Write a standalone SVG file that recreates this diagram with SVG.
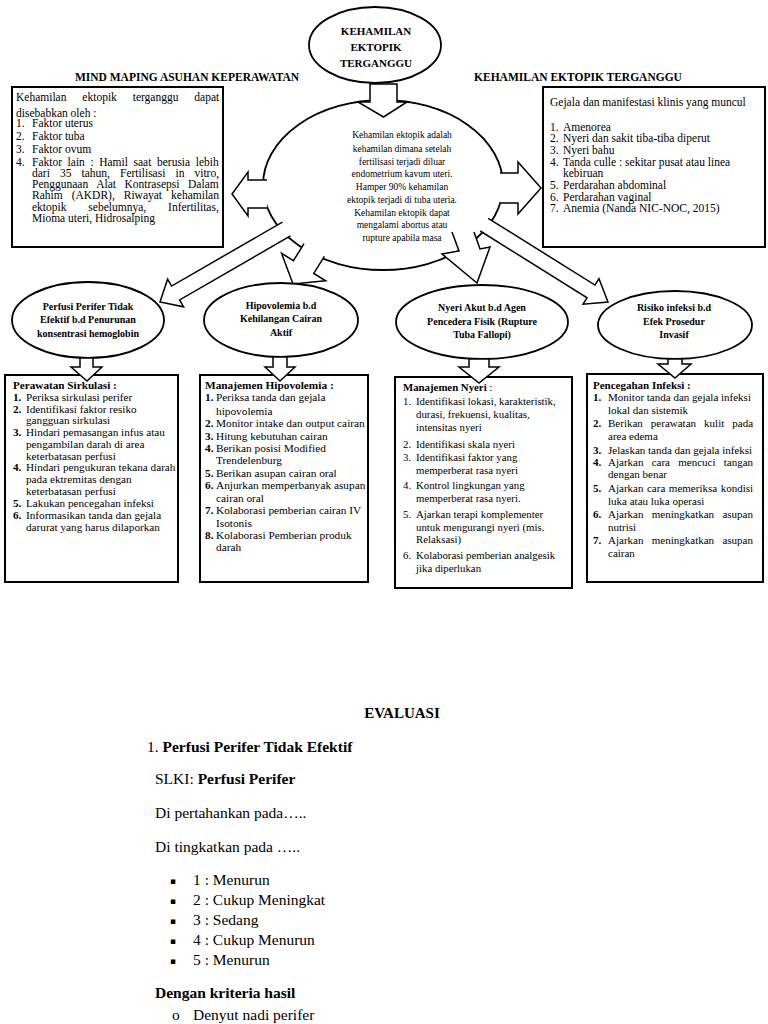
<svg xmlns="http://www.w3.org/2000/svg" width="768" height="1024" viewBox="0 0 768 1024">
<style>
.t{font-family:"Liberation Serif","Times New Roman",serif;fill:#000}
.b{font-weight:bold}
.hd{font-size:11.5px;font-weight:bold}
.lb{font-size:11.5px}
.ce{font-size:9.5px;text-anchor:middle}
.el{font-size:10px;font-weight:bold;text-anchor:middle}
.b1{font-size:11.2px}
.b2{font-size:11.3px}
.b3{font-size:10.8px}
.b4{font-size:11px}
.ev{font-size:15.5px}
.bul{font-family:"DejaVu Sans",sans-serif;font-size:9px;fill:#000}
.node{fill:#fff;stroke:#000;stroke-width:1.8}
.box{fill:#fff;stroke:#000;stroke-width:2}
.arrow{fill:#fff;stroke:#000;stroke-width:1.5;stroke-linejoin:miter}
</style>
<rect x="0" y="0" width="768" height="1024" fill="#fff"/>

<g id="title-node">
<ellipse class="node" cx="375" cy="45" rx="66" ry="38"/>
<text class="t b" font-size="11" text-anchor="middle" x="376" y="35">KEHAMILAN</text>
<text class="t b" font-size="11" text-anchor="middle" x="376" y="51">EKTOPIK</text>
<text class="t b" font-size="11" text-anchor="middle" x="376" y="67">TERGANGGU</text>
</g>

<g id="headers">
<text class="t hd" x="187" y="81" text-anchor="middle">MIND MAPING ASUHAN KEPERAWATAN</text>
<text class="t hd" x="578" y="81" text-anchor="middle">KEHAMILAN EKTOPIK TERGANGGU</text>
</g>

<g id="etiologi-box">
<rect class="box" x="12" y="87" width="211" height="160"/>
<text class="t lb" x="16" y="101" word-spacing="13">Kehamilan ektopik terganggu dapat</text>
<text class="t lb" x="16" y="117">disebabkan oleh :</text>
<text class="t lb" x="16" y="127">1.</text><text class="t lb" x="32" y="127">Faktor uterus</text>
<text class="t lb" x="16" y="140">2.</text><text class="t lb" x="32" y="140">Faktor tuba</text>
<text class="t lb" x="16" y="153">3.</text><text class="t lb" x="32" y="153">Faktor ovum</text>
<text class="t lb" x="16" y="166">4.</text><text class="t lb" x="32" y="166" word-spacing="2.7">Faktor lain : Hamil saat berusia lebih</text>
<text class="t lb" x="32" y="177" word-spacing="7.2">dari 35 tahun, Fertilisasi in vitro,</text>
<text class="t lb" x="32" y="188" word-spacing="5.7">Penggunaan Alat Kontrasepsi Dalam</text>
<text class="t lb" x="32" y="199" word-spacing="6.1">Rahim (AKDR), Riwayat kehamilan</text>
<text class="t lb" x="32" y="211" word-spacing="19">ektopik sebelumnya, Infertilitas,</text>
<text class="t lb" x="32" y="222">Mioma uteri, Hidrosalping</text>
</g>

<g id="gejala-box">
<rect class="box" x="543" y="87" width="222" height="160"/>
<text class="t lb" x="550" y="106">Gejala dan manifestasi klinis yang muncul</text>
<text class="t lb" x="550" y="131">1.</text><text class="t lb" x="563" y="131">Amenorea</text>
<text class="t lb" x="550" y="142">2.</text><text class="t lb" x="563" y="142">Nyeri dan sakit tiba-tiba diperut</text>
<text class="t lb" x="550" y="154">3.</text><text class="t lb" x="563" y="154">Nyeri bahu</text>
<text class="t lb" x="550" y="166">4.</text><text class="t lb" x="563" y="166">Tanda culle : sekitar pusat atau linea</text>
<text class="t lb" x="563" y="177">kebiruan</text>
<text class="t lb" x="550" y="189">5.</text><text class="t lb" x="563" y="189">Perdarahan abdominal</text>
<text class="t lb" x="550" y="201">6.</text><text class="t lb" x="563" y="201">Perdarahan vaginal</text>
<text class="t lb" x="550" y="212">7.</text><text class="t lb" x="563" y="212">Anemia (Nanda NIC-NOC, 2015)</text>
</g>

<g id="definisi-node">
<ellipse class="node" cx="383" cy="185" rx="120" ry="85"/>
<text class="t ce" x="402" y="138">Kehamilan ektopik adalah</text>
<text class="t ce" x="402" y="152">kehamilan dimana setelah</text>
<text class="t ce" x="402" y="165">fertilisasi terjadi diluar</text>
<text class="t ce" x="402" y="177">endometrium kavum uteri.</text>
<text class="t ce" x="402" y="190">Hamper 90% kehamilan</text>
<text class="t ce" x="402" y="203">ektopik terjadi di tuba uteria.</text>
<text class="t ce" x="402" y="216">Kehamilan ektopik dapat</text>
<text class="t ce" x="402" y="228">mengalami abortus atau</text>
<text class="t ce" x="402" y="241">rupture apabila masa</text>
</g>

<g id="connectors">
<path class="arrow" d="M370,84 L370,102 L358,102 L383.5,117 L407,102 L397,102 L397,84 Z"/>
<path class="arrow" d="M267,180 L248,180 L248,172 L232,194 L248,216 L248,208 L267,208"/>
<path class="arrow" d="M500,173 L518,173 L518,162 L541,188 L518,214 L518,203 L500,203"/>
<path class="arrow" transform="translate(160,302) rotate(150)" d="M-146,-8 L-18,-8 L-18,-16 L0,0 L-18,16 L-18,8 L-146,8"/>
<path class="arrow" transform="translate(293,284) rotate(122)" d="M-40,-12 L-20,-12 L-20,-26 L0,0 L-20,26 L-20,12 L-40,12"/>
<path class="arrow" d="M452,232 L459,251 L442,254 L477,283 L490,247 L480,249 L474,232"/>
<path class="arrow" transform="translate(608,302) rotate(32)" d="M-146,-7.5 L-20,-7.5 L-20,-15 L0,0 L-20,15 L-20,7.5 L-146,7.5"/>
</g>

<g id="perfusi-node">
<ellipse class="node" cx="88" cy="320" rx="76" ry="38"/>
<text class="t el" font-size="9.5" x="88" y="310">Perfusi Perifer Tidak</text>
<text class="t el" font-size="9.5" x="88" y="323">Efektif b.d Penurunan</text>
<text class="t el" font-size="9.5" x="88" y="337">konsentrasi hemoglobin</text>
</g>
<g id="hipovolemia-node">
<ellipse class="node" cx="281" cy="320" rx="77" ry="37"/>
<text class="t el" x="281" y="309">Hipovolemia b.d</text>
<text class="t el" x="281" y="322">Kehilangan Cairan</text>
<text class="t el" x="281" y="336">Aktif</text>
</g>
<g id="nyeri-node">
<ellipse class="node" cx="482" cy="322" rx="86" ry="37"/>
<text class="t el" x="482" y="311">Nyeri Akut b.d Agen</text>
<text class="t el" x="482" y="325">Pencedera Fisik (Rupture</text>
<text class="t el" x="482" y="338">Tuba Fallopi)</text>
</g>
<g id="infeksi-node">
<ellipse class="node" cx="675" cy="325" rx="77" ry="34"/>
<text class="t el" x="674" y="311">Risiko infeksi b.d</text>
<text class="t el" x="674" y="325">Efek Prosedur</text>
<text class="t el" x="674" y="338">Invasif</text>
</g>

<g id="sirkulasi-box">
<rect class="box" x="5" y="375" width="173" height="207"/>
<text class="t b1 b" x="13" y="389">Perawatan Sirkulasi :</text>
<text class="t b1 b" x="13" y="401">1.</text><text class="t b1" x="26" y="401">Periksa sirkulasi perifer</text>
<text class="t b1 b" x="13" y="413">2.</text><text class="t b1" x="26" y="413">Identifikasi faktor resiko</text>
<text class="t b1" x="26" y="424">gangguan sirkulasi</text>
<text class="t b1 b" x="13" y="436">3.</text><text class="t b1" x="26" y="436">Hindari pemasangan infus atau</text>
<text class="t b1" x="26" y="448">pengambilan darah di area</text>
<text class="t b1" x="26" y="460">keterbatasan perfusi</text>
<text class="t b1 b" x="13" y="471">4.</text><text class="t b1" x="26" y="471">Hindari pengukuran tekana darah</text>
<text class="t b1" x="26" y="483">pada ektremitas dengan</text>
<text class="t b1" x="26" y="495">keterbatasan perfusi</text>
<text class="t b1 b" x="13" y="507">5.</text><text class="t b1" x="26" y="507">Lakukan pencegahan infeksi</text>
<text class="t b1 b" x="13" y="519">6.</text><text class="t b1" x="26" y="519">Informasikan tanda dan gejala</text>
<text class="t b1" x="26" y="531">darurat yang harus dilaporkan</text>
</g>

<g id="hipovolemia-box">
<rect class="box" x="200" y="375" width="168" height="207"/>
<text class="t b2 b" x="205" y="389">Manajemen Hipovolemia :</text>
<text class="t b2 b" x="205" y="401">1.</text><text class="t b2" x="216" y="401">Periksa tanda dan gejala</text>
<text class="t b2" x="216" y="415">hipovolemia</text>
<text class="t b2 b" x="205" y="427">2.</text><text class="t b2" x="216" y="427">Monitor intake dan output cairan</text>
<text class="t b2 b" x="205" y="440">3.</text><text class="t b2" x="216" y="440">Hitung kebutuhan cairan</text>
<text class="t b2 b" x="205" y="452">4.</text><text class="t b2" x="216" y="452">Berikan posisi Modified</text>
<text class="t b2" x="216" y="464">Trendelenburg</text>
<text class="t b2 b" x="205" y="477">5.</text><text class="t b2" x="216" y="477">Berikan asupan cairan oral</text>
<text class="t b2 b" x="205" y="489">6.</text><text class="t b2" x="216" y="489">Anjurkan memperbanyak asupan</text>
<text class="t b2" x="216" y="502">cairan oral</text>
<text class="t b2 b" x="205" y="514">7.</text><text class="t b2" x="216" y="514">Kolaborasi pemberian cairan IV</text>
<text class="t b2" x="216" y="527">Isotonis</text>
<text class="t b2 b" x="205" y="539">8.</text><text class="t b2" x="216" y="539">Kolaborasi Pemberian produk</text>
<text class="t b2" x="216" y="551">darah</text>
</g>

<g id="nyeri-box">
<rect class="box" x="395" y="377" width="177" height="211"/>
<text class="t b3" x="403" y="391"><tspan class="b">Manajemen Nyeri</tspan> :</text>
<text class="t b3" x="403" y="405">1.</text><text class="t b3" x="416" y="405">Identifikasi lokasi, karakteristik,</text>
<text class="t b3" x="416" y="418">durasi, frekuensi, kualitas,</text>
<text class="t b3" x="416" y="431">intensitas nyeri</text>
<text class="t b3" x="403" y="448">2.</text><text class="t b3" x="416" y="448">Identifikasi skala nyeri</text>
<text class="t b3" x="403" y="461">3.</text><text class="t b3" x="416" y="461">Identifikasi faktor yang</text>
<text class="t b3" x="416" y="474">memperberat rasa nyeri</text>
<text class="t b3" x="403" y="489">4.</text><text class="t b3" x="416" y="489">Kontrol lingkungan yang</text>
<text class="t b3" x="416" y="502">memperberat rasa nyeri.</text>
<text class="t b3" x="403" y="518">5.</text><text class="t b3" x="416" y="518">Ajarkan terapi komplementer</text>
<text class="t b3" x="416" y="531">untuk mengurangi nyeri (mis.</text>
<text class="t b3" x="416" y="543">Relaksasi)</text>
<text class="t b3" x="403" y="559">6.</text><text class="t b3" x="416" y="559">Kolaborasi pemberian analgesik</text>
<text class="t b3" x="416" y="572">jika diperlukan</text>
</g>

<g id="infeksi-box">
<rect class="box" x="587" y="374" width="176" height="208"/>
<text class="t b4 b" x="593" y="389">Pencegahan Infeksi :</text>
<text class="t b4 b" x="593" y="401">1.</text><text class="t b4" x="608" y="401">Monitor tanda dan gejala infeksi</text>
<text class="t b4" x="608" y="414">lokal dan sistemik</text>
<text class="t b4 b" x="593" y="427">2.</text><text class="t b4" x="608" y="427" word-spacing="5.3">Berikan perawatan kulit pada</text>
<text class="t b4" x="608" y="440">area edema</text>
<text class="t b4 b" x="593" y="454">3.</text><text class="t b4" x="608" y="454">Jelaskan tanda dan gejala infeksi</text>
<text class="t b4 b" x="593" y="466">4.</text><text class="t b4" x="608" y="466" word-spacing="5.5">Ajarkan cara mencuci tangan</text>
<text class="t b4" x="608" y="478">dengan benar</text>
<text class="t b4 b" x="593" y="492">5.</text><text class="t b4" x="608" y="492" word-spacing="0.8">Ajarkan cara memeriksa kondisi</text>
<text class="t b4" x="608" y="505">luka atau luka operasi</text>
<text class="t b4 b" x="593" y="518">6.</text><text class="t b4" x="608" y="518" word-spacing="5.6">Ajarkan meningkatkan asupan</text>
<text class="t b4" x="608" y="531">nutrisi</text>
<text class="t b4 b" x="593" y="544">7.</text><text class="t b4" x="608" y="544" word-spacing="5.6">Ajarkan meningkatkan asupan</text>
<text class="t b4" x="608" y="557">cairan</text>
</g>

<g id="down-connectors">
<path class="arrow" d="M80,358 L80,367 L71,367 L87,381 L102,367 L93,367 L93,358 Z"/>
<path class="arrow" d="M273,357 L273,367 L265,367 L280,381 L295,367 L287,367 L287,357 Z"/>
<path class="arrow" d="M469,359 L469,367 L459,367 L479,383 L499,367 L489,367 L489,359 Z"/>
<path class="arrow" d="M668,359 L668,364 L658,364 L675,378 L691,364 L682,364 L682,359 Z"/>
</g>

<g id="evaluasi">
<text class="t b" font-size="15" x="402" y="718" text-anchor="middle">EVALUASI</text>
<text class="t ev" x="147" y="752">1. <tspan class="b">Perfusi Perifer Tidak Efektif</tspan></text>
<text class="t ev" x="155" y="784">SLKI: <tspan class="b">Perfusi Perifer</tspan></text>
<text class="t ev" x="155" y="818">Di pertahankan pada…..</text>
<text class="t ev" x="155" y="852">Di tingkatkan pada …..</text>
<text class="bul" x="170" y="884">▪</text><text class="t ev" x="193" y="885">1 : Menurun</text>
<text class="bul" x="170" y="904">▪</text><text class="t ev" x="193" y="905">2 : Cukup Meningkat</text>
<text class="bul" x="170" y="924">▪</text><text class="t ev" x="193" y="925">3 : Sedang</text>
<text class="bul" x="170" y="944">▪</text><text class="t ev" x="193" y="945">4 : Cukup Menurun</text>
<text class="bul" x="170" y="964">▪</text><text class="t ev" x="193" y="965">5 : Menurun</text>
<text class="t ev b" x="155" y="998">Dengan kriteria hasil</text>
<text class="t ev" x="172" y="1020">o</text><text class="t ev" x="193" y="1020">Denyut nadi perifer</text>
</g>
</svg>
